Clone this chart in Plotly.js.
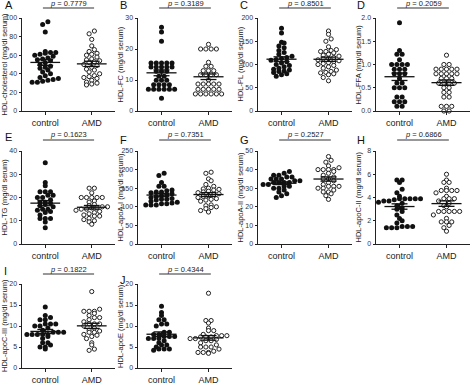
<!DOCTYPE html>
<html><head><meta charset="utf-8">
<script src="https://cdn.plot.ly/plotly-3.0.1.min.js"></script>
<style>html,body{margin:0;padding:0;background:#fff}#chart{width:474px;height:387px}</style>
</head><body><div id="chart"></div>
<script>
// ---------- data ----------
const groups = ["control", "AMD"];
const panelLetters = ["A","B","C","D","E","F","G","H","I","J"];
const yTitles = ["HDL-cholesterol (mg/dl serum)","HDL-FC (mg/dl serum)","HDL-PL (mg/dl serum)","HDL-FFA (mg/dl serum)",
  "HDL-TG (mg/dl serum)","HDL-apoA-I (mg/dl serum)","HDL-apoA-II (mg/dl serum)","HDL-apoC-II (mg/dl serum)",
  "HDL-apoC-III (mg/dl serum)","HDL-apoE (mg/dl serum)"];
const pValues = ["0.7779","0.3189","0.8501","0.2059","0.1623","0.7351","0.2527","0.6866","0.1822","0.4344"];
const yMax = [100,30,200,2,40,250,50,8,20,20];
const yDtick = [20,10,50,0.5,10,50,10,2,5,5];

const cholControl = [96,93,85,64,63,63,62,61,60,59,57,56,55,54,52,50,48,47,46,44,42,40,38,36,35,34,33,32,31,31];
const cholAMD = [86,83,77,70,66,64,62,61,60,58,56,55,54,53,52,50,49,47,45,44,42,40,38,37,36,35,33,31,30,29,28];
const fcControl = [27,25.5,22.5,15.5,15.5,15.5,15.5,15.5,14.2,14.2,14.2,14.2,14.2,12.8,12.8,12.8,11.2,11.2,9.9,9.9,9.9,8.5,8.5,8.5,8.5,7,7,7,7,7,7,4.1];
const fcAMD = [21.5,20,20,20,20,15.7,14.4,14.4,13,13,13,11.7,11.7,11.7,11.7,10,8.7,8.7,8.7,8.7,8.7,7,7,7,7,7,5.5,5.5,5.5,5.5,5.5,5.5];
const plControl = [178,168,148,146,140,136,130,126,122,118,115,113,111,109,106,103,100,98,95,92,90,88,86,85,83,80,78,75];
const plAMD = [172,165,155,150,138,132,130,128,128,125,122,120,118,115,113,112,110,108,106,104,102,100,98,95,92,88,85,83,82,80,78,72,65];
const ffaControl = [1.9,1.3,1.22,1.22,1.1,1.0,1.0,1.0,1.0,0.9,0.9,0.9,0.8,0.8,0.8,0.7,0.6,0.6,0.5,0.5,0.5,0.3,0.3,0.2,0.2,0.2,0.1,0.1];
const ffaAMD = [1.2,1.0,1.0,0.9,0.9,0.9,0.9,0.9,0.8,0.8,0.8,0.8,0.8,0.7,0.7,0.7,0.6,0.6,0.6,0.6,0.5,0.5,0.4,0.4,0.3,0.3,0.1,0.1,0.1,0.0,0.0];
const tgControl = [35,26.5,25,22.5,22.5,22.5,21,21,20,20,19,18,18,17.5,17,16.5,16,15,15,14.5,14,13.5,12.5,11,11,11,9.5,7];
const tgAMD = [24,24,22,20,20,20,20,20,18.5,18,17,16.5,16,16,15.5,15.5,15,15,14.5,14,13.5,13,12.5,12,12,11,10.5,10,9.5,8.5];
const apoAIControl = [190,184,165,155,155,145,143,140,140,138,135,132,130,128,125,122,120,120,118,115,112,110,108,108,105,105,105];
const apoAIAMD = [193,190,175,170,160,155,150,148,147,145,142,140,138,135,133,130,128,125,122,120,118,115,105,103,100,98,95,90,86];
const apoAIIControl = [39,38,37,37,36,36,35,35,35,34,34,33,33,33,33,32,32,31,31,30,30,29,28,27,26,25];
const apoAIIAMD = [47,45,44,42,41,40,40,40,40,39,38,37,36,35,35,34,33,32,31,31,31,30,30,29,28,28,27,26,24];
const apoCIIControl = [5.5,5.5,5.3,4.7,4.4,4.1,3.9,3.9,3.9,3.9,3.9,3.8,3.7,3.7,3.6,3.5,3.3,3.1,3.0,2.8,2.5,2.2,2.0,1.8,1.5,1.5,1.5,1.4,1.4,1.4];
const apoCIIAMD = [6.0,5.5,5.3,5.3,4.8,4.6,4.6,4.6,4.6,4.4,4.1,3.9,3.9,3.9,3.7,3.5,3.3,3.2,2.8,2.8,2.8,2.8,2.8,2.5,2.2,1.9,1.9,1.9,1.6,1.4,1.1];
const apoCIIIControl = [14.5,12.5,12,11.5,11.5,10.5,10.5,10.5,10,10,9.5,9,8.5,8.5,8.5,8,8,8,8,8,7.5,7,6,6,5.5,5,5,4.5];
const apoCIIIAMD = [18.2,14,13.5,13.5,13.5,13,12.5,12,12,11.5,11,10.5,10.5,10.5,10,9.5,9,8.8,8.5,8.5,8,7.8,7.5,7,6,5.5,4.5,4.2];
const apoEControl = [14.7,13.2,12.5,11.5,11.5,10.5,10.5,10,8.5,8.5,8,8,7.5,7.5,7.5,7,7,7,6.5,6,5.5,5.5,5,4.5,4.5,4.5,4.2];
const apoEAMD = [17.8,11.3,11.3,10.7,9.5,8.9,8.9,8,7.7,7.7,7.7,7.4,7.4,7.4,7,7,6.8,6.5,6.5,6,5.5,5,5,5,4.5,4,3.7,3.7,3.7,3.5];

const controlSets = [cholControl,fcControl,plControl,ffaControl,tgControl,apoAIControl,apoAIIControl,apoCIIControl,apoCIIIControl,apoEControl];
const amdSets = [cholAMD,fcAMD,plAMD,ffaAMD,tgAMD,apoAIAMD,apoAIIAMD,apoCIIAMD,apoCIIIAMD,apoEAMD];

// ---------- layout geometry (pixels) ----------
const W = 474, H = 387;
const colX = [[22,115],[138,232],[258,352],[376,470]];
const rowY = [[18,111],[151,244],[284,368]];
const barY = [8,140,274];
const letterPos = [[3,5],[118,5],[238,5],[355,5],[3,137],[118,140],[238,140],[355,140],[2,271],[118,280]];
const XR = [-0.5,1.5];
const DOT = 5;
const ROWH = 4.4;

function mean(a){return a.reduce((s,v)=>s+v,0)/a.length;}
function sem(a){const m=mean(a);const sd=Math.sqrt(a.reduce((s,v)=>s+(v-m)*(v-m),0)/(a.length-1));return sd/Math.sqrt(a.length);}

// row-binned swarm: points whose pixel heights fall in the same row are spread side by side
function swarm(vals, pxY, pxX){
  const bins = {};
  vals.forEach((v,i)=>{const k=Math.round(v*pxY/ROWH);(bins[k]=bins[k]||[]).push(i);});
  const off = new Array(vals.length).fill(0);
  Object.values(bins).forEach(ids=>{
    ids.sort((a,b)=>vals[a]-vals[b]);
    const n = ids.length;
    ids.forEach((id,j)=>{off[id]=((j-(n-1)/2)*DOT*1.05)/pxX;});
  });
  return off;
}

const traces = [], layout = {width:W,height:H,margin:{l:0,r:0,t:0,b:0},showlegend:false,
  paper_bgcolor:'#fff',plot_bgcolor:'rgba(0,0,0,0)',font:{family:'Liberation Sans, Arial, sans-serif',color:'#222'},
  shapes:[],annotations:[]};

for(let p=0;p<10;p++){
  const r = Math.floor(p/4), c = p%4;
  const n = p+1, xs = n===1?'x':'x'+n, ys = n===1?'y':'y'+n;
  const xk = n===1?'xaxis':'xaxis'+n, yk = n===1?'yaxis':'yaxis'+n;
  const [x0,x1] = colX[c], [y0,y1] = rowY[r];
  const pxX = (x1-x0)/(XR[1]-XR[0]), pxY = (y1-y0)/yMax[p];
  layout[xk] = {domain:[x0/W,x1/W],anchor:ys,range:XR,tickvals:[0,1],ticktext:groups,ticks:'outside',ticklen:3,tickwidth:1,
    tickcolor:'#222',showline:true,linecolor:'#222',linewidth:1,showgrid:false,zeroline:false,tickfont:{size:9,color:'#222'},fixedrange:true};
  layout[yk] = {domain:[1-y1/H,1-y0/H],anchor:xs,range:[0,yMax[p]],dtick:yDtick[p],tick0:0,ticks:'outside',ticklen:2.5,tickwidth:1,
    tickcolor:'#222',showline:true,linecolor:'#222',linewidth:1,showgrid:false,zeroline:false,tickfont:{size:7,color:'#333'},
    tickformat: yDtick[p]<1?'.1f':'d',fixedrange:true};
  const sets = [controlSets[p], amdSets[p]];
  sets.forEach((vals,g)=>{
    const off = swarm(vals,pxY,pxX);
    traces.push({type:'scatter',mode:'markers',xaxis:xs,yaxis:ys,x:vals.map((v,i)=>g+off[i]),y:vals,cliponaxis:false,
      marker:g===0?{size:DOT,color:'#111',line:{width:0}}:{size:DOT-0.8,color:'#fff',line:{width:1,color:'#222'}},hoverinfo:'y'});
    const m = mean(vals), s = sem(vals);
    traces.push({type:'scatter',mode:'lines',xaxis:xs,yaxis:ys,cliponaxis:false,
      x:[g-0.32,g+0.32,null,g-0.17,g+0.17,null,g-0.17,g+0.17,null,g,g],
      y:[m,m,null,m+s,m+s,null,m-s,m-s,null,m-s,m+s],line:{color:'#111',width:1.3},hoverinfo:'skip'});
  });
  layout.shapes.push({type:'line',xref:xs,yref:'paper',x0:-0.05,x1:1.05,y0:1-barY[r]/H,y1:1-barY[r]/H,line:{color:'#333',width:1.2}});
  layout.annotations.push({xref:xs,yref:'paper',x:0.5,y:1-(barY[r]-5)/H,text:'<i>p</i> = '+pValues[p],showarrow:false,
    font:{size:7.5,color:'#222'},xanchor:'center',yanchor:'middle'});
  layout.annotations.push({xref:'paper',yref:'paper',x:(x0-18)/W,y:1-((y0+y1)/2)/H,text:yTitles[p],textangle:-90,showarrow:false,
    font:{size:7.5,color:'#222'},xanchor:'center',yanchor:'middle'});
  layout.annotations.push({xref:'paper',yref:'paper',x:letterPos[p][0]/W,y:1-letterPos[p][1]/H,text:panelLetters[p],showarrow:false,
    font:{size:11,color:'#111'},xanchor:'left',yanchor:'middle'});
}
Plotly.newPlot('chart',traces,layout,{staticPlot:true});
</script></body></html>
